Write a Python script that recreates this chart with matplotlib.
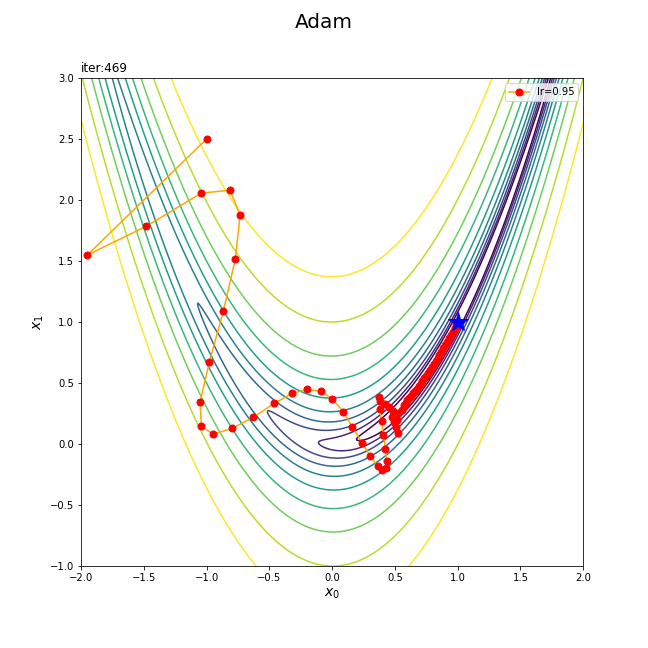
import matplotlib
matplotlib.use('Agg')
import matplotlib.pyplot as plt
import numpy as np

# contour levels of the Rosenbrock surface
levels = [0.65, 1.23, 2.3, 4.3, 8.0, 15.2, 29.0, 53.0, 101.0, 189.0]

# optimizer path (x0, x1), discrete steps first, then the dense trail to the minimum
path_x0 = [-1.0, -1.95, -1.482, -1.041, -0.813, -0.733, -0.771, -0.866, -0.978, -1.052,
           -1.041, -0.946, -0.794, -0.627, -0.46, -0.316, -0.197, -0.085, 0.002, 0.09,
           0.162, 0.241, 0.305, 0.363, 0.401, 0.428, 0.436, 0.425, 0.409, 0.394,
           0.379, 0.377, 0.383, 0.422, 0.457, 0.488, 0.476, 0.494, 0.51, 0.528,
           0.516, 0.528, 0.555,
           0.57, 0.585, 0.6, 0.615, 0.63, 0.645, 0.66, 0.675, 0.69, 0.705,
           0.72, 0.735, 0.75, 0.765, 0.78, 0.795, 0.81, 0.825, 0.84, 0.855,
           0.87, 0.885, 0.9, 0.915, 0.93, 0.945, 0.96, 0.975, 0.99, 1.0]
path_x1 = [2.5, 1.549, 1.784, 2.057, 2.08, 1.875, 1.514, 1.09, 0.672, 0.342,
           0.145, 0.08, 0.129, 0.219, 0.334, 0.416, 0.448, 0.432, 0.367, 0.266,
           0.138, 0.006, -0.1, -0.182, -0.215, -0.194, -0.139, -0.043, 0.071, 0.186,
           0.285, 0.385, 0.355, 0.328, 0.306, 0.273, 0.224, 0.182, 0.142, 0.093,
           0.197, 0.252, 0.279,
           0.32, 0.34, 0.36, 0.375, 0.395, 0.415, 0.435, 0.455, 0.475, 0.495,
           0.52, 0.54, 0.56, 0.585, 0.61, 0.63, 0.655, 0.68, 0.705, 0.73,
           0.755, 0.785, 0.81, 0.835, 0.865, 0.895, 0.92, 0.95, 0.98, 1.0]

minimum = (1.0, 1.0)
n_iter = 469
lr = 0.95


def rosenbrock(x0, x1):
    return (1 - x0) ** 2 + 100 * (x1 - x0 ** 2) ** 2


gx = np.linspace(-2, 2, 400)
gy = np.linspace(-1, 3, 400)
X, Y = np.meshgrid(gx, gy)
Z = rosenbrock(X, Y)

fig = plt.figure(figsize=(9, 9), dpi=72)
ax = fig.add_axes([0.125, 0.1265, 0.775, 0.7531])

# one viridis colour per level, evenly spaced (levels are log spaced)
level_colors = plt.cm.viridis(np.linspace(0, 1, len(levels)))
ax.contour(X, Y, Z, levels=levels, colors=level_colors, linewidths=1.5)
ax.plot(path_x0, path_x1, color='orange', marker='o', markerfacecolor='red',
        markeredgecolor='red', markersize=7, linewidth=1.5, label=f'lr={lr}')
ax.plot(minimum[0], minimum[1], marker='*', color='blue', markersize=20)

ax.set_xlim(-2, 2)
ax.set_ylim(-1, 3)
ax.set_xlabel('$x_0$', fontsize=14)
ax.set_ylabel('$x_1$', fontsize=14)
ax.set_title(f'iter:{n_iter}', loc='left')
ax.legend(loc='upper right')
fig.suptitle('Adam', fontsize=20)

fig.savefig('out.png', dpi=72)
